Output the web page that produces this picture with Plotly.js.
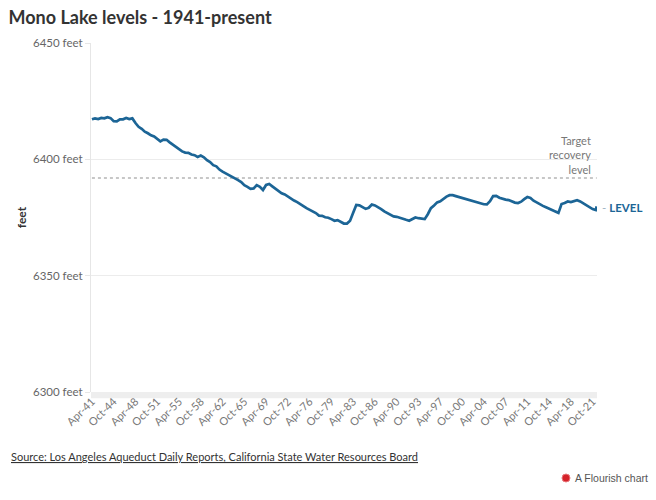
<!DOCTYPE html>
<html>
<head>
<meta charset="utf-8">
<script src="https://cdn.plot.ly/plotly-3.0.1.min.js"></script>
<style>
  html, body { margin: 0; padding: 0; background: #fff; }
  #chart { width: 656px; height: 500px; }
</style>
</head>
<body>
<div id="chart"></div>
<script>
// Surface elevation of Mono Lake, sampled each April and October (decimal years)
const dates = [
  1941.25, 1941.75, 1942.25, 1942.75, 1943.25, 1943.75, 1944.25, 1944.75, 1945.25, 1945.75,
  1946.25, 1946.75, 1947.25, 1947.75, 1948.25, 1948.75, 1949.25, 1949.75, 1950.25, 1950.75,
  1951.25, 1951.75, 1952.25, 1952.75, 1953.25, 1953.75, 1954.25, 1954.75, 1955.25, 1955.75,
  1956.25, 1956.75, 1957.25, 1957.75, 1958.25, 1958.75, 1959.25, 1959.75, 1960.25, 1960.75,
  1961.25, 1961.75, 1962.25, 1962.75, 1963.25, 1963.75, 1964.25, 1964.75, 1965.25, 1965.75,
  1966.25, 1966.75, 1967.25, 1967.75, 1968.25, 1968.75, 1969.25, 1969.75, 1970.25, 1970.75,
  1971.25, 1971.75, 1972.25, 1972.75, 1973.25, 1973.75, 1974.25, 1974.75, 1975.25, 1975.75,
  1976.25, 1976.75, 1977.25, 1977.75, 1978.25, 1978.75, 1979.25, 1979.75, 1980.25, 1980.75,
  1981.25, 1981.75, 1982.25, 1982.75, 1983.25, 1983.75, 1984.25, 1984.75, 1985.25, 1985.75,
  1986.25, 1986.75, 1987.25, 1987.75, 1988.25, 1988.75, 1989.25, 1989.75, 1990.25, 1990.75,
  1991.25, 1991.75, 1992.25, 1992.75, 1993.25, 1993.75, 1994.25, 1994.75, 1995.25, 1995.75,
  1996.25, 1996.75, 1997.25, 1997.75, 1998.25, 1998.75, 1999.25, 1999.75, 2000.25, 2000.75,
  2001.25, 2001.75, 2002.25, 2002.75, 2003.25, 2003.75, 2004.25, 2004.75, 2005.25, 2005.75,
  2006.25, 2006.75, 2007.25, 2007.75, 2008.25, 2008.75, 2009.25, 2009.75, 2010.25, 2010.75,
  2011.25, 2011.75, 2012.25, 2012.75, 2013.25, 2013.75, 2014.25, 2014.75, 2015.25, 2015.75,
  2016.25, 2016.75, 2017.25, 2017.75, 2018.25, 2018.75, 2019.25, 2019.75, 2020.25, 2020.75,
  2021.25, 2021.75, 2022.25, 2022.4
];

const levels = [
  6417.2, 6417.6, 6417.3, 6417.8, 6417.6, 6418.1, 6417.7, 6416.4, 6416.3, 6417.2,
  6417.2, 6417.8, 6417.3, 6417.6, 6415.6, 6414.0, 6413.1, 6411.9, 6411.2, 6410.3,
  6409.8, 6408.8, 6407.7, 6408.5, 6408.4, 6407.3, 6406.4, 6405.2, 6404.3, 6403.4,
  6402.9, 6402.8, 6402.1, 6401.8, 6401.0, 6401.6, 6400.9, 6399.6, 6398.8, 6397.5,
  6397.0, 6395.6, 6394.7, 6394.0, 6393.5, 6392.5, 6391.8, 6391.1, 6390.2, 6388.9,
  6388.2, 6387.3, 6387.5, 6388.9, 6388.2, 6386.8, 6389.0, 6389.4, 6388.4, 6387.3,
  6386.6, 6385.4, 6384.9, 6383.9, 6383.3, 6382.3, 6381.6, 6380.6, 6379.9, 6379.0,
  6378.4, 6377.5, 6376.9, 6375.8, 6375.7, 6375.1, 6374.9, 6374.3, 6373.6, 6373.9,
  6373.3, 6372.4, 6372.4, 6373.6, 6377.0, 6380.4, 6380.2, 6379.6, 6378.7, 6379.2,
  6380.6, 6380.2, 6379.5, 6378.6, 6377.6, 6376.8, 6376.1, 6375.5, 6375.3, 6374.8,
  6374.2, 6374.0, 6373.6, 6374.4, 6375.0, 6374.7, 6374.6, 6374.3, 6376.4, 6379.0,
  6380.2, 6381.5, 6382.0, 6383.2, 6384.0, 6384.6, 6384.6, 6384.2, 6383.8, 6383.3,
  6383.0, 6382.5, 6382.2, 6381.8, 6381.4, 6381.1, 6380.7, 6380.6, 6382.0, 6384.2,
  6384.3, 6383.5, 6383.0, 6382.7, 6382.5, 6381.8, 6381.4, 6381.2, 6381.8, 6382.9,
  6383.8, 6383.4, 6382.2, 6381.5, 6380.6, 6380.0, 6379.4, 6378.7, 6378.2, 6377.6,
  6377.0, 6380.8, 6381.2, 6381.9, 6381.6, 6382.0, 6382.4, 6381.9, 6381.1, 6380.4,
  6379.6, 6378.6, 6378.2, 6379.8
];

// Lake level mandated for recovery
const targetLevel = 6392;

// Axis ticks
const tickYears = [
  1941.25, 1944.75, 1948.25, 1951.75, 1955.25, 1958.75, 1962.25, 1965.75,
  1969.25, 1972.75, 1976.25, 1979.75, 1983.25, 1986.75, 1990.25, 1993.75,
  1997.25, 2000.75, 2004.25, 2007.75, 2011.25, 2014.75, 2018.25, 2021.75
];
const tickLabels = [
  "Apr-41", "Oct-44", "Apr-48", "Oct-51", "Apr-55", "Oct-58", "Apr-62", "Oct-65",
  "Apr-69", "Oct-72", "Apr-76", "Oct-79", "Apr-83", "Oct-86", "Apr-90", "Oct-93",
  "Apr-97", "Oct-00", "Apr-04", "Oct-07", "Apr-11", "Oct-14", "Apr-18", "Oct-21"
];
const yTicks = [6300, 6350, 6400, 6450];
const yTickLabels = ["6300 feet", "6350 feet", "6400 feet", "6450 feet"];

const lineColor = "#1c6596";
const fontFamily = "Lato, 'Open Sans', sans-serif";

const traces = [
  {
    x: [dates[0], dates[dates.length - 1]],
    y: [targetLevel, targetLevel],
    mode: "lines",
    line: { color: "#b5b5b5", width: 1.5, dash: "dot" },
    hoverinfo: "skip",
    showlegend: false
  },
  {
    x: dates,
    y: levels,
    name: "LEVEL",
    mode: "lines",
    line: { color: lineColor, width: 2.7 },
    showlegend: false
  }
];

const lastX = dates[dates.length - 1];
const lastY = levels[levels.length - 1];

// pixel helpers for placing furniture outside the plot area
const plotLeft = 91, plotWidth = 506, plotBottom = 392, plotHeight = 349;
const px = (x) => (x - plotLeft) / plotWidth;
const py = (y) => (plotBottom - y) / plotHeight;

const layout = {
  width: 656,
  height: 500,
  margin: { l: 91, r: 59, t: 43, b: 108 },
  paper_bgcolor: "#ffffff",
  plot_bgcolor: "#ffffff",
  font: { family: fontFamily, color: "#666" },
  title: {
    text: "<b>Mono Lake levels - 1941-present</b>",
    font: { family: fontFamily, size: 18, color: "#333" },
    x: 0.013, xanchor: "left", xref: "container",
    y: 0.965, yanchor: "middle", yref: "container"
  },
  xaxis: {
    range: [1941.1, 2022.45],
    tickmode: "array",
    tickvals: tickYears,
    ticktext: tickLabels,
    tickangle: -45,
    tickfont: { size: 11, color: "#777" },
    showgrid: false,
    zeroline: false,
    showline: false,
    ticks: "",
    fixedrange: true
  },
  yaxis: {
    range: [6300, 6450],
    tickmode: "array",
    tickvals: yTicks,
    ticktext: yTickLabels,
    tickfont: { size: 11.5, color: "#666" },
    ticks: "outside",
    ticklen: 5,
    tickcolor: "#e6e6e6",
    showgrid: true,
    gridcolor: "#ececec",
    gridwidth: 1,
    zeroline: false,
    showline: true,
    linecolor: "#e6e6e6",
    linewidth: 1,
    title: {
      text: "<b>feet</b>",
      font: { family: fontFamily, size: 12, color: "#333" },
      standoff: 3
    },
    fixedrange: true
  },
  shapes: [
    {
      type: "rect", xref: "paper", yref: "paper",
      x0: 0, x1: 1, y0: -0.018, y1: 0,
      fillcolor: "#eeeeee", line: { width: 0 }, layer: "below"
    },
    {
      type: "circle", xref: "paper", yref: "paper",
      x0: px(562), x1: px(570),
      y0: py(482), y1: py(474),
      fillcolor: "#d5232a", line: { color: "#e9787c", width: 1 }
    }
  ],
  annotations: [
    {
      x: lastX, y: lastY, xref: "x", yref: "y",
      text: "<span style='color:#9fb4c4'>-</span> <b>LEVEL</b>",
      showarrow: false, xanchor: "left", yanchor: "middle",
      xshift: 3, yshift: -1,
      font: { family: fontFamily, size: 11.5, color: lineColor }
    },
    {
      x: 2021.75, y: targetLevel, xref: "x", yref: "y",
      text: "Target<br>recovery<br>level",
      showarrow: false, xanchor: "right", yanchor: "bottom", align: "right",
      yshift: 0,
      font: { family: fontFamily, size: 11, color: "#777" }
    },
    {
      x: px(9), y: py(456), xref: "paper", yref: "paper",
      text: "Source: Los Angeles Aqueduct Daily Reports, California State Water Resources Board",
      showarrow: false, xanchor: "left", yanchor: "middle",
      font: { family: fontFamily, size: 11, color: "#333", lineposition: "under" }
    },
    {
      x: px(573), y: py(478), xref: "paper", yref: "paper",
      text: "A Flourish chart",
      showarrow: false, xanchor: "left", yanchor: "middle",
      font: { family: "'Liberation Sans', Arial, sans-serif", size: 10.5, color: "#555" }
    }
  ]
};

Plotly.newPlot("chart", traces, layout, { displayModeBar: false, staticPlot: true });
</script>
</body>
</html>
